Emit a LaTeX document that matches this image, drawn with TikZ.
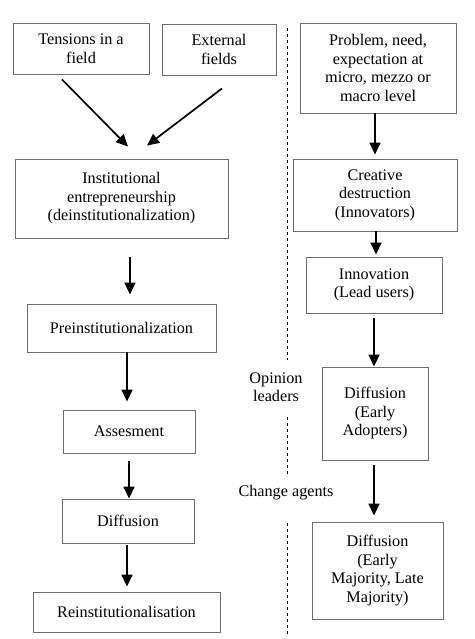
\documentclass[tikz,border=0pt]{standalone}
\usepackage{fontspec}
\setmainfont{Liberation Serif}
\usepackage{tikz}
\usetikzlibrary{arrows.meta, positioning}
\definecolor{boxgray}{RGB}{110, 110, 110}

\tikzset{
  box/.style={draw=boxgray, line width=0.9pt, align=center, inner sep=2pt,
    font=\fontsize{16.2}{18.5}\selectfont},
  flow/.style={line width=1.7pt, -{Triangle[length=12pt, width=11pt]}},
  sidelabel/.style={align=center, font=\fontsize{16.2}{18.5}\selectfont}
}

\begin{document}
\begin{tikzpicture}[x=1pt, y=-1pt]
\useasboundingbox (0,0) rectangle (474,639);

% Left column: institutional change
\node[box, minimum width=136pt, minimum height=51pt] (tension) at (81,48.5) {Tensions in a\\field};
\node[box, minimum width=114pt, minimum height=51pt] (external) at (219,49.5) {External\\fields};
\node[box, minimum width=213pt, minimum height=79pt] (entre) at (121.5,198.5) {Institutional\\entrepreneurship\\(deinstitutionalization)};
\node[box, minimum width=189pt, minimum height=48pt] (preinst) at (121.5,328) {Preinstitutionalization};
\node[box, minimum width=132pt, minimum height=43pt] (assess) at (129,431.5) {Assesment};
\node[box, minimum width=132pt, minimum height=44pt] (diffleft) at (128,521) {Diffusion};
\node[box, minimum width=187pt, minimum height=40pt] (reinst) at (126.5,612) {Reinstitutionalisation};

% Right column: innovation diffusion
\node[box, minimum width=156pt, minimum height=90pt] (problem) at (378,68) {Problem, need,\\expectation at\\micro, mezzo or\\macro level};
\node[box, minimum width=164pt, minimum height=72pt] (creative) at (375,195) {Creative\\destruction\\(Innovators)};
\node[box, minimum width=136pt, minimum height=56pt] (innov) at (374,285) {Innovation\\(Lead users)};
\node[box, minimum width=106pt, minimum height=93pt] (early) at (375,413.5) {Diffusion\\(Early\\Adopters)};
\node[box, minimum width=131pt, minimum height=97pt] (major) at (377.5,570.5) {Diffusion\\(Early\\Majority, Late\\Majority)};

% Labels on the divider
\node[sidelabel] (opinion) at (276,387) {Opinion\\leaders};
\node[sidelabel] (agents) at (286,493) {Change agents};

% Divider
\draw[line width=0.9pt, dash pattern=on 3pt off 3pt] (287,28) -- (287,360);
\draw[line width=0.9pt, dash pattern=on 3pt off 3pt] (287,417) -- (287,477);
\draw[line width=0.9pt, dash pattern=on 3pt off 3pt] (287,523) -- (287,637);

% Arrows, left
\draw[flow] ([shift={(-19,5)}]tension.south) -- ([shift={(6.5,-12)}]entre.north);
\draw[flow] ([shift={(3,13)}]external.south) -- ([shift={(25.5,-13)}]entre.north);
\draw[flow, shorten <=19pt, shorten >=9pt] ([xshift=8.5pt]entre.south) -- ([xshift=8.5pt]preinst.north);
\draw[flow, shorten >=8pt] ([xshift=-2pt]assess.north |- preinst.south) -- ([xshift=-2pt]assess.north);
\draw[flow, shorten <=8pt] (assess.south) -- (diffleft.north -| assess.south);
\draw[flow, shorten <=2pt, shorten >=5pt] ([xshift=-1pt]diffleft.south) -- ([xshift=-1pt]diffleft.south |- reinst.north);

% Arrows, right
\draw[flow, shorten >=4pt] (problem.south -| creative.north) -- (creative.north);
\draw[flow, shorten >=2pt] ([xshift=1pt]creative.south) -- ([xshift=1pt]creative.south |- innov.north);
\draw[flow, shorten <=5pt] (innov.south) -- (early.north -| innov.south);
\draw[flow, shorten <=5pt, shorten >=6pt] ([xshift=-1pt]early.south) -- ([xshift=-1pt]early.south |- major.north);
\end{tikzpicture}
\end{document}
